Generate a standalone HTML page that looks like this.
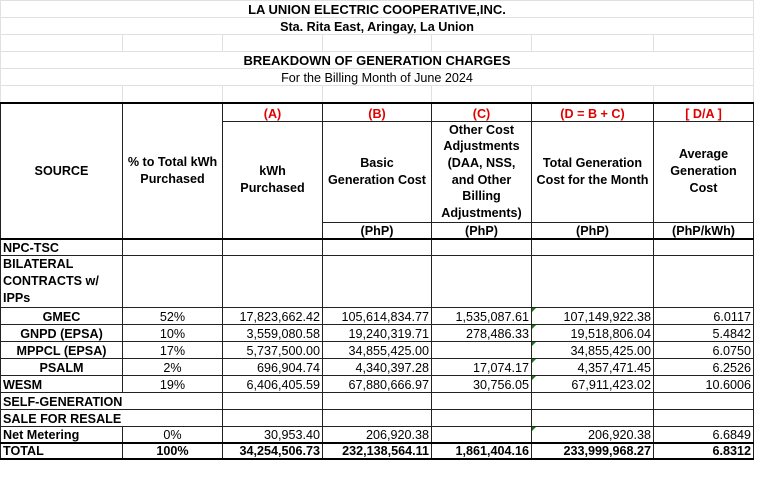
<!DOCTYPE html>
<html><head><meta charset="utf-8"><style>
html,body{margin:0;padding:0;background:#fff;width:768px;height:477px;overflow:hidden}
body{font-family:"Liberation Sans",Arial,sans-serif;font-size:12.6px;color:#000}
table{border-collapse:collapse;table-layout:fixed;position:absolute;left:0;top:0}
td{padding:0 2px;white-space:nowrap;overflow:hidden;line-height:14px;vertical-align:bottom}
.t td{border:1px solid #e0e0e0;height:16px}
.h td,.d td{border:1px solid #222}
.b{font-weight:bold}.c{text-align:center}.r{text-align:right}
.red{color:#e00000;font-weight:bold;text-align:center}
.tt td{border-top:2px solid #000}
.tot td{border-top:2px solid #000;border-bottom:2px solid #000;font-weight:bold}
.wrap{white-space:normal;line-height:17px;vertical-align:middle}
.mid{vertical-align:middle}
.lt{border-top-color:#ddd!important}
.tri{position:absolute;width:0;height:0;border-top:4px solid #1a7a1a;border-right:4px solid transparent}
</style></head><body>
<table style="width:753px">
<colgroup><col style="width:122px"><col style="width:100px"><col style="width:100px"><col style="width:109px"><col style="width:100px"><col style="width:122px"><col style="width:100px"></colgroup>
<tbody class="t">
<tr><td colspan="7" class="b c" style="font-size:13px">LA UNION ELECTRIC COOPERATIVE,INC.</td></tr>
<tr><td colspan="7" class="b c">Sta. Rita East, Aringay, La Union</td></tr>
<tr><td></td><td></td><td></td><td></td><td></td><td></td><td></td></tr>
<tr><td colspan="7" class="b c" style="font-size:13px">BREAKDOWN OF GENERATION CHARGES</td></tr>
<tr><td colspan="7" class="c">For the Billing Month of June 2024</td></tr>
<tr><td></td><td></td><td></td><td></td><td></td><td></td><td></td></tr>
</tbody>
<tbody class="h b">
<tr class="tt" style="height:18px"><td rowspan="3" class="c mid">SOURCE</td><td rowspan="3" class="c wrap" style="padding-top:0">% to Total kWh<br>Purchased</td><td class="red">(A)</td><td class="red">(B)</td><td class="red">(C)</td><td class="red">(D = B + C)</td><td class="red">[ D/A ]</td></tr>
<tr style="height:101px"><td rowspan="2" class="c wrap">kWh<br>Purchased</td><td class="c wrap">Basic<br>Generation Cost</td><td class="c wrap" style="line-height:16.6px">Other Cost<br>Adjustments<br>(DAA, NSS,<br>and Other<br>Billing<br>Adjustments)</td><td class="c wrap">Total Generation<br>Cost for the Month</td><td class="c wrap">Average<br>Generation<br>Cost</td></tr>
<tr style="height:17px"><td class="c">(PhP)</td><td class="c">(PhP)</td><td class="c">(PhP)</td><td class="c">(PhP/kWh)</td></tr>
</tbody>
<tbody class="d">
<tr class="tt" style="height:16px"><td class="b">NPC-TSC</td><td></td><td></td><td></td><td></td><td></td><td></td></tr>
<tr style="height:52px"><td class="b wrap" style="vertical-align:bottom">BILATERAL<br>CONTRACTS w/<br>IPPs</td><td></td><td></td><td></td><td></td><td></td><td></td></tr>
<tr style="height:17px"><td class="b c lt">GMEC</td><td class="c lt">52%</td><td class="r lt">17,823,662.42</td><td class="r lt">105,614,834.77</td><td class="r lt">1,535,087.61</td><td class="r lt">107,149,922.38</td><td class="r lt">6.0117</td></tr>
<tr style="height:17px"><td class="b c">GNPD (EPSA)</td><td class="c">10%</td><td class="r">3,559,080.58</td><td class="r">19,240,319.71</td><td class="r">278,486.33</td><td class="r">19,518,806.04</td><td class="r">5.4842</td></tr>
<tr style="height:17px"><td class="b c">MPPCL (EPSA)</td><td class="c">17%</td><td class="r">5,737,500.00</td><td class="r">34,855,425.00</td><td class="r"></td><td class="r">34,855,425.00</td><td class="r">6.0750</td></tr>
<tr style="height:17px"><td class="b c">PSALM</td><td class="c">2%</td><td class="r">696,904.74</td><td class="r">4,340,397.28</td><td class="r">17,074.17</td><td class="r">4,357,471.45</td><td class="r">6.2526</td></tr>
<tr style="height:17px"><td class="b">WESM</td><td class="c">19%</td><td class="r">6,406,405.59</td><td class="r">67,880,666.97</td><td class="r">30,756.05</td><td class="r">67,911,423.02</td><td class="r">10.6006</td></tr>
<tr style="height:17px"><td class="b" colspan="2">SELF-GENERATION</td><td></td><td></td><td></td><td></td><td></td></tr>
<tr style="height:17px"><td class="b" colspan="2">SALE FOR RESALE</td><td></td><td></td><td></td><td></td><td></td></tr>
<tr style="height:17px"><td class="b">Net Metering</td><td class="c">0%</td><td class="r">30,953.40</td><td class="r">206,920.38</td><td></td><td class="r">206,920.38</td><td class="r">6.6849</td></tr>
<tr class="tot" style="height:16px"><td>TOTAL</td><td class="c">100%</td><td class="r">34,254,506.73</td><td class="r">232,138,564.11</td><td class="r">1,861,404.16</td><td class="r">233,999,968.27</td><td class="r">6.8312</td></tr>
</tbody>
</table>
<div class="tri" style="left:532px;top:308px"></div>
<div class="tri" style="left:532px;top:325px"></div>
<div class="tri" style="left:532px;top:342px"></div>
<div class="tri" style="left:532px;top:359px"></div>
<div class="tri" style="left:532px;top:376px"></div>
<div class="tri" style="left:532px;top:427px"></div>
</body></html>
